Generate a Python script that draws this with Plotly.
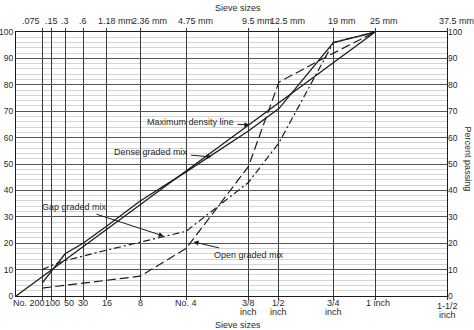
import plotly.graph_objects as go

# Sieve openings (mm) and the two label rows printed for them
sieve_mm = [0.075, 0.15, 0.3, 0.6, 1.18, 2.36, 4.75, 9.5, 12.5, 19, 25, 37.5]
metric_labels = [".075", ".15", ".3", ".6", "1.18 mm", "2.36 mm", "4.75 mm",
                 "9.5 mm", "12.5 mm", "19 mm", "25 mm", "37.5 mm"]
us_labels = ["No. 200", "100", "50", "30", "16", "8", "No. 4",
             "3/8<br>inch", "1/2<br>inch", "3/4<br>inch", "1 inch", "1-1/2<br>inch"]
percent_ticks = [0, 10, 20, 30, 40, 50, 60, 70, 80, 90, 100]

# Gradation curves: sieve size (mm) -> percent passing
max_density_mm = [0, 25]
max_density_pct = [0, 100]

dense_mm = [0.075, 0.15, 0.3, 0.6, 1.18, 2.36, 4.75, 9.5, 12.5, 19, 25]
dense_pct = [5, 9.5, 16, 20, 26.5, 36, 47, 62.5, 71, 96, 100]

gap_mm = [0.075, 0.15, 0.3, 0.6, 1.18, 2.36, 4.75, 9.5, 12.5, 19, 25]
gap_pct = [10, 11.6, 13.4, 15, 17.4, 20.4, 24.5, 43, 58, 96, 100]

open_mm = [0.075, 2.36, 4.75, 9.5, 12.5, 19, 25]
open_pct = [3, 7.5, 18, 49, 81, 92, 100]

POWER = 0.45


def p45(sizes):
    """Sieve size raised to the 0.45 power (horizontal scale of the chart)."""
    return [s ** POWER for s in sizes]


INK = "#1c1c1c"
TXT = "#2a2a2a"
FONT = "Liberation Sans, Arial, sans-serif"

fig = go.Figure()

fig.add_trace(go.Scatter(x=p45(max_density_mm), y=max_density_pct, mode="lines",
                         line=dict(color=INK, width=1.3), name="Maximum density line"))
fig.add_trace(go.Scatter(x=p45(dense_mm), y=dense_pct, mode="lines",
                         line=dict(color=INK, width=1.3), name="Dense graded mix"))
fig.add_trace(go.Scatter(x=p45(gap_mm), y=gap_pct, mode="lines",
                         line=dict(color=INK, width=1.2, dash="7px,3px,2px,3px"),
                         name="Gap graded mix"))
fig.add_trace(go.Scatter(x=p45(open_mm), y=open_pct, mode="lines",
                         line=dict(color=INK, width=1.2, dash="9px,4px"),
                         name="Open graded mix"))
# carrier for the right-hand percent axis
fig.add_trace(go.Scatter(x=[None], y=[None], yaxis="y2", showlegend=False,
                         hoverinfo="skip"))

xmax = 37.5 ** POWER
fig.update_layout(
    template="none",
    width=474, height=330,
    margin=dict(l=16, r=27, t=32, b=34),
    paper_bgcolor="white", plot_bgcolor="white",
    showlegend=False,
    font=dict(family=FONT, size=9, color=TXT),
    xaxis=dict(range=[0, xmax], tickvals=p45(sieve_mm), showticklabels=False,
               ticks="outside", ticklen=3, tickcolor="#333", tickwidth=1,
               showgrid=True, gridcolor="#3c3c3c", gridwidth=1,
               showline=True, linecolor=INK, linewidth=1.2, mirror="ticks",
               zeroline=False, automargin=False, fixedrange=True),
    yaxis=dict(range=[0, 100], tickvals=percent_ticks, ticks="",
               ticklabelstandoff=0,
               showgrid=True, gridcolor="#555555", gridwidth=1,
               minor=dict(dtick=2, showgrid=True, gridcolor="#d4d4d4", gridwidth=0.6),
               showline=True, linecolor=INK, linewidth=1.2, mirror=True,
               zeroline=False, automargin=False, tickfont=dict(size=8.5, color=TXT)),
    yaxis2=dict(range=[0, 100], tickvals=percent_ticks, ticks="", overlaying="y",
                side="right", showgrid=False, zeroline=False, showline=False,
                automargin=False, tickfont=dict(size=8.5, color=TXT)),
)

annotations = []

# metric sizes along the top: number centred on the tick, "mm" trailing
for size, lab in zip(sieve_mm, metric_labels):
    if lab == ".075":
        anchor, shift = "right", 0
    else:
        anchor, shift = "center", (9 if lab.endswith(" mm") else 0)
    annotations.append(dict(x=size ** POWER, y=1, xref="x", yref="paper",
                            text=lab, showarrow=False, xanchor=anchor,
                            yanchor="bottom", xshift=shift, yshift=4,
                            font=dict(size=9, color=TXT)))

# US sieve designations along the bottom (two-line labels stacked tightly)
bottom_nudge = {"No. 200": 5, "100": 1, "50": 4, "1 inch": 3}
bottom_drop = {"1-1/2<br>inch": 3}
for size, lab in zip(sieve_mm, us_labels):
    anchor = "right" if lab == "No. 200" else "center"
    shift = bottom_nudge.get(lab, 0)
    drop = bottom_drop.get(lab, 0)
    for row, part in enumerate(lab.split("<br>")):
        annotations.append(dict(x=size ** POWER, y=0, xref="x", yref="paper",
                                text=part, showarrow=False, xanchor=anchor,
                                yanchor="top", xshift=shift,
                                yshift=-drop - 9 * row,
                                font=dict(size=9, color=TXT)))

# axis titles
annotations += [
    dict(x=0.514, y=1.09, xref="paper", yref="paper", text="Sieve sizes",
         showarrow=False, xanchor="center", yanchor="middle",
         font=dict(size=9, color=TXT)),
    dict(x=0.514, y=-0.11, xref="paper", yref="paper", text="Sieve sizes",
         showarrow=False, xanchor="center", yanchor="middle",
         font=dict(size=9, color=TXT)),
    dict(x=1.049, y=0.52, xref="paper", yref="paper", text="Percent passing",
         showarrow=False, textangle=90, xanchor="center", yanchor="middle",
         font=dict(size=9, color=TXT)),
]

# curve call-outs with arrows
callouts = [
    ("Maximum density line", 2.767, 64.8, -59, -3),
    ("Dense graded mix", 2.318, 52.7, -61, -5),
    ("Gap graded mix", 1.750, 22.7, -89, -29),
    ("Open graded mix", 2.105, 20.5, 55, 13),
]
for text, xa, ya, ax, ay in callouts:
    annotations.append(dict(x=xa, y=ya, xref="x", yref="y", text=text,
                            showarrow=True, ax=ax, ay=ay, arrowhead=2,
                            arrowsize=1, arrowwidth=1, arrowcolor=INK,
                            standoff=0, startstandoff=2,
                            font=dict(size=9, color=TXT)))

fig.update_layout(annotations=annotations)

fig.write_html("out.html")
